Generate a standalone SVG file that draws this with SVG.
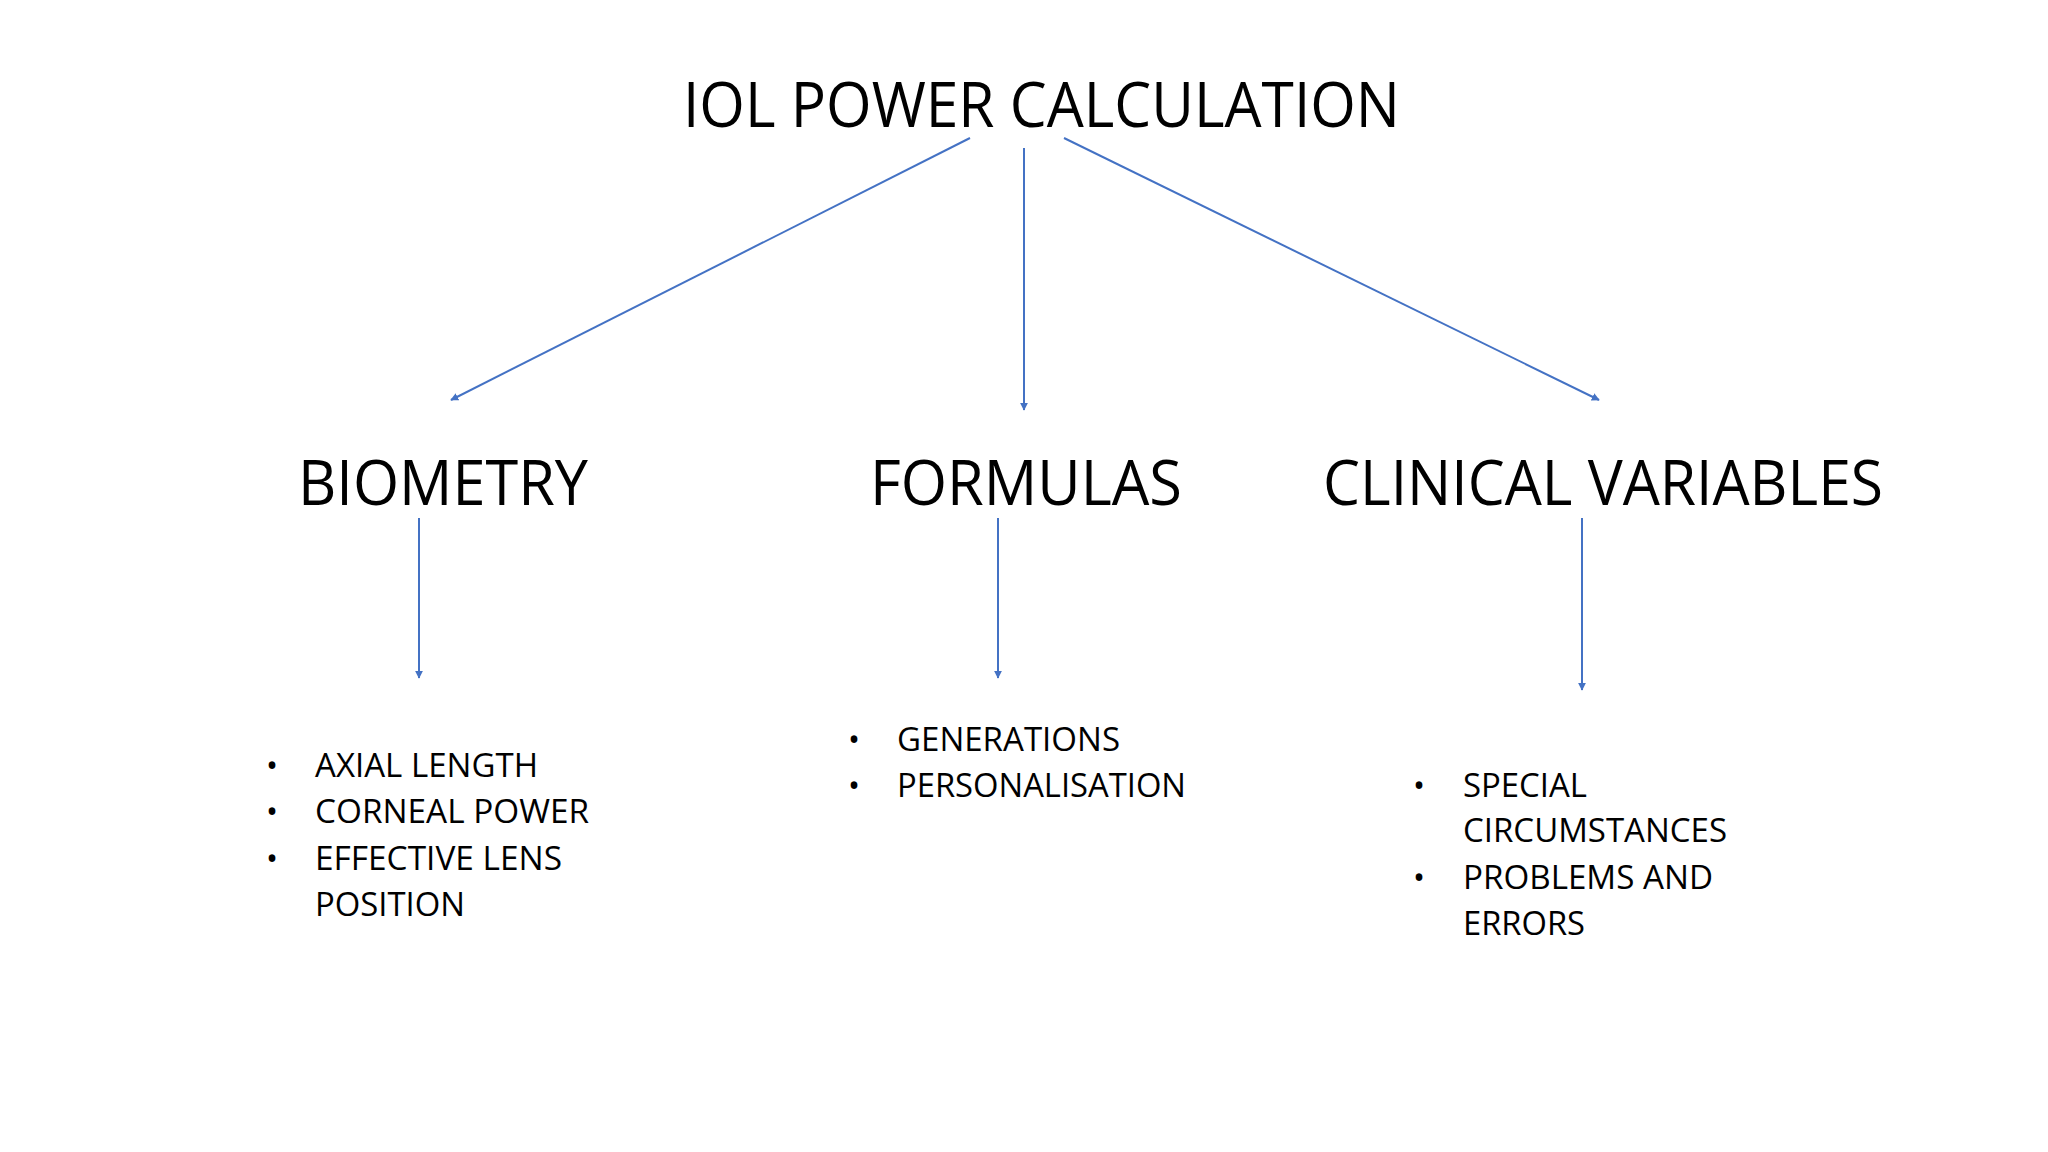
<svg xmlns="http://www.w3.org/2000/svg" width="2048" height="1152" viewBox="0 0 2048 1152">
<defs>
<marker id="ah" viewBox="0 0 10 10" refX="9" refY="5" markerWidth="4" markerHeight="4" orient="auto"><path d="M0,0 L10,5 L0,10 z" fill="#4472C4"/></marker>
<style>
text{font-family:"Open Sans","Liberation Sans",sans-serif;fill:#000}
.h{font-size:62px}
.b{font-size:32px}
.c line{stroke:#4472C4;stroke-width:2;marker-end:url(#ah)}
</style>
</defs>
<rect width="2048" height="1152" fill="#fff"/>
<g class="c" id="connectors">
<line x1="970" y1="138" x2="451" y2="400"/>
<line x1="1024" y1="148" x2="1024" y2="410"/>
<line x1="1064" y1="138" x2="1599" y2="400"/>
<line x1="419" y1="518" x2="419" y2="678"/>
<line x1="998" y1="518" x2="998" y2="678"/>
<line x1="1582" y1="518" x2="1582" y2="690"/>
</g>
<g id="title"><text class="h" x="683" y="127" textLength="717" lengthAdjust="spacingAndGlyphs">IOL POWER CALCULATION</text></g>
<g id="biometry"><text class="h" x="298" y="505" textLength="290" lengthAdjust="spacingAndGlyphs">BIOMETRY</text></g>
<g id="formulas"><text class="h" x="870" y="505" textLength="312" lengthAdjust="spacingAndGlyphs">FORMULAS</text></g>
<g id="clinical"><text class="h" x="1323" y="505" textLength="560" lengthAdjust="spacingAndGlyphs">CLINICAL VARIABLES</text></g>
<g id="bio-list" class="b">
<text x="266" y="777">•</text><text x="315" y="777" textLength="223" lengthAdjust="spacingAndGlyphs">AXIAL LENGTH</text>
<text x="266" y="823">•</text><text x="315" y="823" textLength="274" lengthAdjust="spacingAndGlyphs">CORNEAL POWER</text>
<text x="266" y="870">•</text><text x="315" y="870" textLength="247" lengthAdjust="spacingAndGlyphs">EFFECTIVE LENS</text>
<text x="315" y="916" textLength="150" lengthAdjust="spacingAndGlyphs">POSITION</text>
</g>
<g id="form-list" class="b">
<text x="848" y="751">•</text><text x="897" y="751" textLength="223" lengthAdjust="spacingAndGlyphs">GENERATIONS</text>
<text x="848" y="797">•</text><text x="897" y="797" textLength="289" lengthAdjust="spacingAndGlyphs">PERSONALISATION</text>
</g>
<g id="clin-list" class="b">
<text x="1413" y="797">•</text><text x="1463" y="797" textLength="124" lengthAdjust="spacingAndGlyphs">SPECIAL</text>
<text x="1463" y="842" textLength="264" lengthAdjust="spacingAndGlyphs">CIRCUMSTANCES</text>
<text x="1413" y="889">•</text><text x="1463" y="889" textLength="250" lengthAdjust="spacingAndGlyphs">PROBLEMS AND</text>
<text x="1463" y="935" textLength="122" lengthAdjust="spacingAndGlyphs">ERRORS</text>
</g>
</svg>
